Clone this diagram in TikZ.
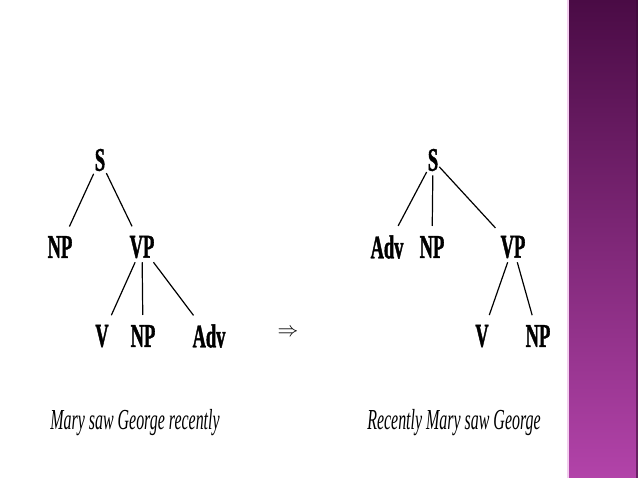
\documentclass[tikz,border=0pt]{standalone}
\usepackage{fontspec}
\setmainfont{Liberation Serif}
\newfontfamily\treefont[FakeStretch=0.56,FakeBold=1.2]{Liberation Serif}
\newfontfamily\sentfont[FakeStretch=0.55]{Liberation Serif}
\definecolor{bartop}{HTML}{4A0B45}
\definecolor{barbottom}{HTML}{B243A9}
\definecolor{baredge}{HTML}{F2CDEE}
\begin{document}
\begin{tikzpicture}
[x=1pt,y=-1pt,
  nodedecorate/.style={inner xsep=1pt,inner ysep=4pt,
    font=\treefont\bfseries\fontsize{33}{33}\selectfont},
  linedecorate/.style={-,line width=1.2pt,shorten >=6pt},
  sentdecorate/.style={anchor=base,inner sep=0pt,
    font=\sentfont\itshape\fontsize{29}{29}\selectfont}]
\useasboundingbox (0,0) rectangle (638,478);
%% side bar
\shade[top color=bartop,bottom color=barbottom] (568,0) rectangle (638,478);
\draw[baredge,line width=1.2pt] (568,0) -- (568,478);
\draw[bartop!80!black,line width=1.5pt,opacity=0.6] (637,0) -- (637,478);
%% nodes of the left tree
\foreach \nodename/\x/\y/\word in {ls/100/160/S, lnp/60/247/NP, lvp/142/247/VP,
  lv/102/336/V, lnpb/143/336/NP, ladv/209/336/Adv} {
  \node (\nodename) at (\x,\y) [nodedecorate] {\word};
}
%% nodes of the right tree
\foreach \nodename/\x/\y/\word in {rs/433/160/S, radv/387/247/Adv, rnp/432/247/NP,
  rvp/513/247/VP, rv/482/336/V, rnpb/538/336/NP} {
  \node (\nodename) at (\x,\y) [nodedecorate] {\word};
}
%% edges or lines
\path
\foreach \startnode/\endnode in {ls/lnp, ls/lvp, lvp/lv, lvp/lnpb, lvp/ladv,
  rs/radv, rs/rnp, rs/rvp, rvp/rv, rvp/rnpb} {
  (\startnode) edge[linedecorate] (\endnode)
};
%% transformation arrow
\node (arrow) at (288,333) [font=\fontsize{22}{22}\selectfont] {$\Rightarrow$};
%% sentences
\node (lsent) at (135,430) [sentdecorate] {Mary saw George recently};
\node (rsent) at (454,430) [sentdecorate] {Recently Mary saw George};
\end{tikzpicture}
\end{document}
